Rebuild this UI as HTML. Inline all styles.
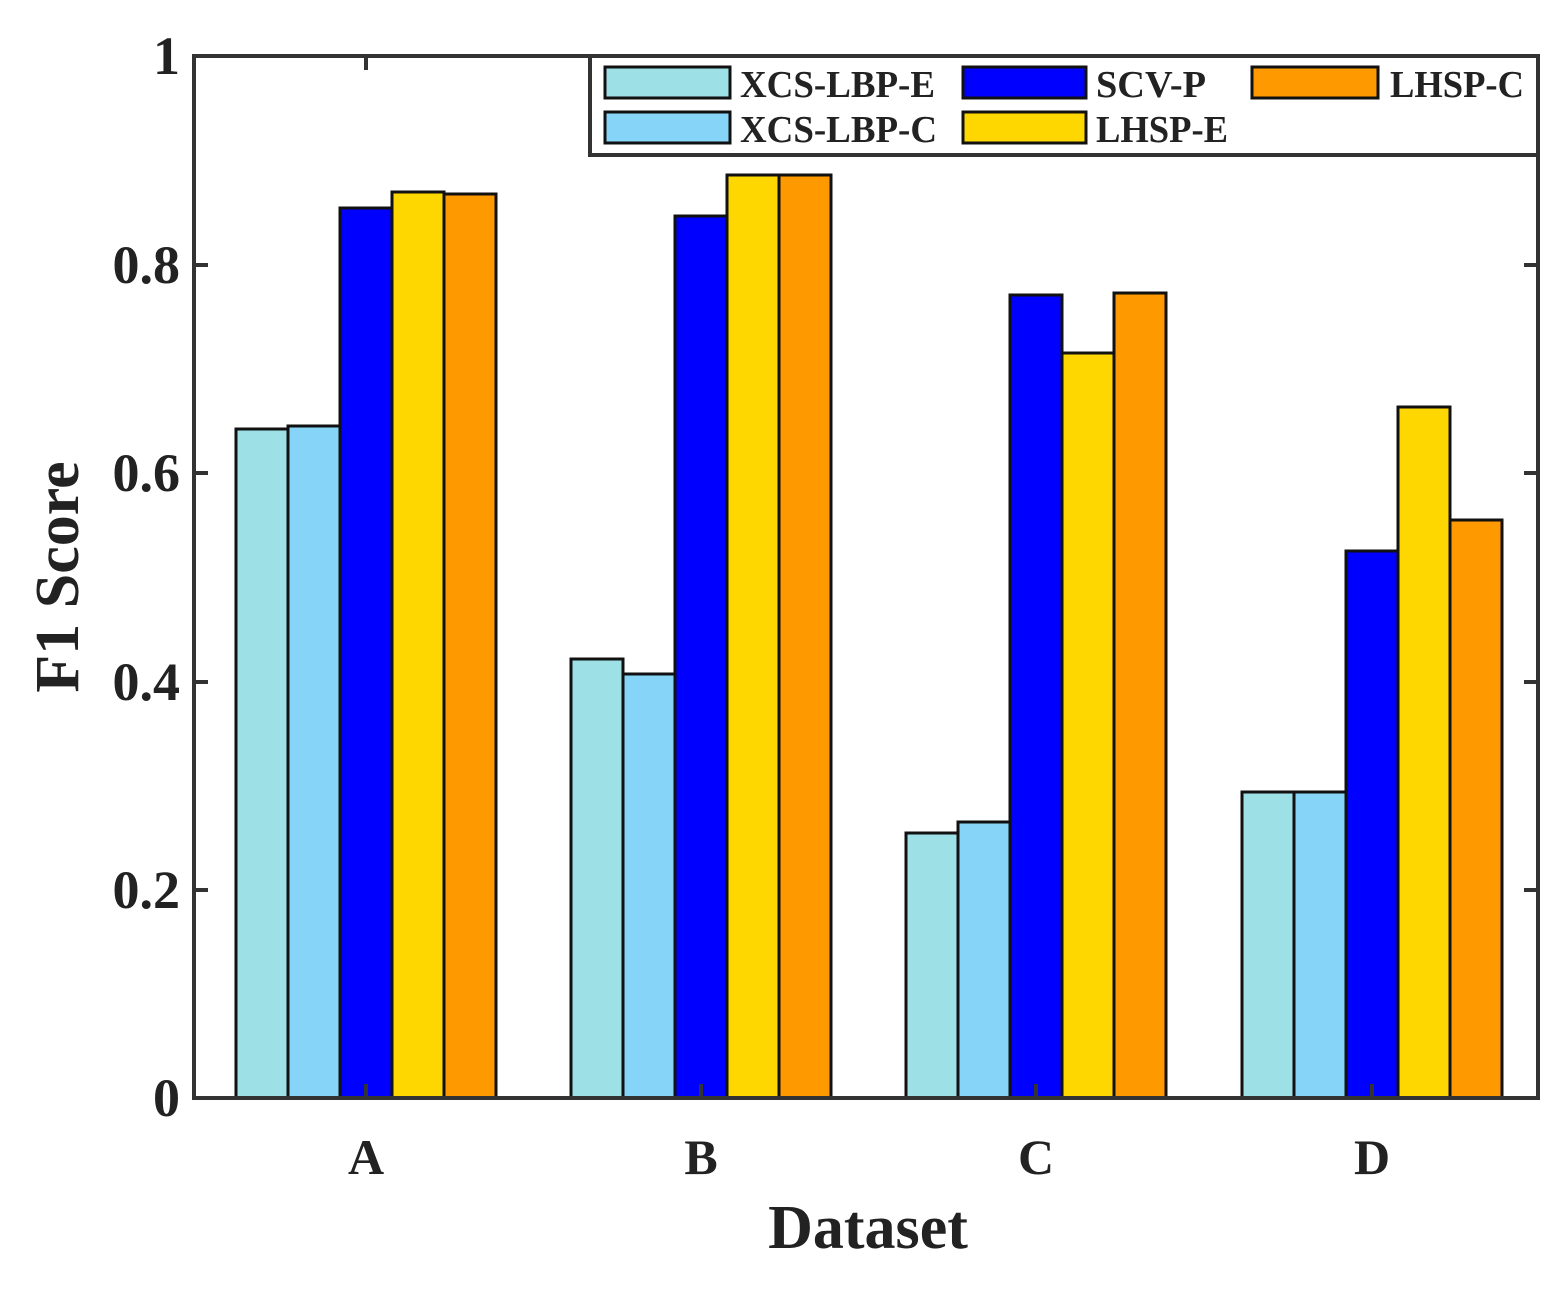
<!DOCTYPE html>
<html><head><meta charset="utf-8"><style>html,body{margin:0;padding:0;background:#fff}</style></head>
<body>
<svg width="1568" height="1285" viewBox="0 0 1568 1285" xmlns="http://www.w3.org/2000/svg" font-family="Liberation Serif, serif" font-weight="bold" fill="#222">
<g stroke="#111" stroke-width="3">
<rect x="236" y="429" width="52" height="669" fill="#9de0e6"/>
<rect x="288" y="426" width="52" height="672" fill="#87d4f9"/>
<rect x="340" y="208" width="52" height="890" fill="#0000ff"/>
<rect x="392" y="192" width="52" height="906" fill="#ffd700"/>
<rect x="444" y="194" width="52" height="904" fill="#ff9900"/>
<rect x="571" y="659" width="52" height="439" fill="#9de0e6"/>
<rect x="623" y="674" width="52" height="424" fill="#87d4f9"/>
<rect x="675" y="216" width="52" height="882" fill="#0000ff"/>
<rect x="727" y="175" width="52" height="923" fill="#ffd700"/>
<rect x="779" y="175" width="52" height="923" fill="#ff9900"/>
<rect x="906" y="833" width="52" height="265" fill="#9de0e6"/>
<rect x="958" y="822" width="52" height="276" fill="#87d4f9"/>
<rect x="1010" y="295" width="52" height="803" fill="#0000ff"/>
<rect x="1062" y="353" width="52" height="745" fill="#ffd700"/>
<rect x="1114" y="293" width="52" height="805" fill="#ff9900"/>
<rect x="1242" y="792" width="52" height="306" fill="#9de0e6"/>
<rect x="1294" y="792" width="52" height="306" fill="#87d4f9"/>
<rect x="1346" y="551" width="52" height="547" fill="#0000ff"/>
<rect x="1398" y="407" width="52" height="691" fill="#ffd700"/>
<rect x="1450" y="520" width="52" height="578" fill="#ff9900"/>
</g>
<g stroke="#333" stroke-width="4" fill="none">
<rect x="194" y="56" width="1344" height="1042"/>
<path d="M194 890h14M194 682h14M194 473h14M194 265h14M1538 890h-14M1538 682h-14M1538 473h-14M1538 265h-14M366 1098v-14M701 1098v-14M1036 1098v-14M1372 1098v-14M366 56v14M701 56v14M1036 56v14M1372 56v14"/>
</g>
<rect x="590" y="56" width="948" height="99" fill="#fff" stroke="#333" stroke-width="4"/>
<g stroke="#111" stroke-width="3">
<rect x="605" y="67" width="125" height="31" fill="#9de0e6"/>
<rect x="605" y="112" width="125" height="31" fill="#87d4f9"/>
<rect x="963" y="67" width="123" height="31" fill="#0000ff"/>
<rect x="963" y="112" width="123" height="31" fill="#ffd700"/>
<rect x="1252" y="67" width="126" height="31" fill="#ff9900"/>
</g>
<g font-size="38">
<text x="740" y="97" textLength="195" lengthAdjust="spacingAndGlyphs">XCS-LBP-E</text>
<text x="740" y="142" textLength="197" lengthAdjust="spacingAndGlyphs">XCS-LBP-C</text>
<text x="1096" y="97" textLength="110" lengthAdjust="spacingAndGlyphs">SCV-P</text>
<text x="1096" y="142" textLength="132" lengthAdjust="spacingAndGlyphs">LHSP-E</text>
<text x="1390" y="97" textLength="134" lengthAdjust="spacingAndGlyphs">LHSP-C</text>
</g>
<g font-size="54" text-anchor="end">
<text x="180" y="1116">0</text>
<text x="180" y="908">0.2</text>
<text x="180" y="700">0.4</text>
<text x="180" y="491">0.6</text>
<text x="180" y="283">0.8</text>
<text x="180" y="74">1</text>
</g>
<g font-size="50" text-anchor="middle">
<text x="366" y="1174">A</text>
<text x="701" y="1174">B</text>
<text x="1036" y="1174">C</text>
<text x="1372" y="1174">D</text>
<text x="868" y="1248" font-size="62">Dataset</text>
<text x="0" y="0" font-size="62" transform="translate(78 577) rotate(-90)">F1 Score</text>
</g>
</svg>
</body></html>
